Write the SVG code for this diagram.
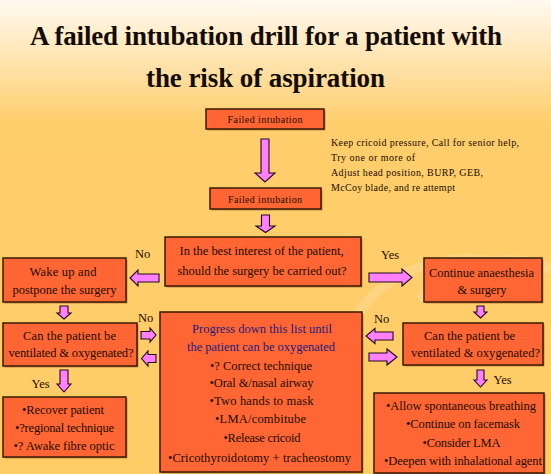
<svg xmlns="http://www.w3.org/2000/svg" width="551" height="474" viewBox="0 0 551 474">
<style>
.box{fill:#FF6633;stroke:#3a1a05;stroke-width:1.5}
.sh{fill:#7a3a10;opacity:0.45}
.arr{fill:#FF80FF;stroke:#1e0a1e;stroke-width:1.1;stroke-linejoin:miter}
.t{font-size:12.5px;text-anchor:middle;fill:#1a0c02}
.s{font-size:10px;text-anchor:middle;fill:#1a0c02}
.n{font-size:10px;fill:#1a0c02}
.lbl{font-size:12.5px;fill:#1a0c02}
.blue{fill:#1c1c7a}
.title{font-size:27px;font-weight:bold;text-anchor:middle;fill:#140c02}
</style>
<defs>
<linearGradient id="bg" x1="0" y1="0" x2="0" y2="474" gradientUnits="userSpaceOnUse">
<stop offset="0" stop-color="#FFF9F0"/>
<stop offset="0.26" stop-color="#FFCE6C"/>
<stop offset="1" stop-color="#FFCC66"/>
</linearGradient>
</defs>
<rect width="551" height="474" fill="url(#bg)"/>
<g fill="none" stroke="#FFE0A0" stroke-width="10" opacity="0.45">
<path d="M350,330 C370,280 430,250 500,262"/>
<path d="M420,300 C450,260 520,250 550,270"/>
</g>
<g font-family="Liberation Serif, DejaVu Serif, serif">
<g id="title">
<text class="title" x="266" y="45" font-family="Liberation Serif" textLength="472">A failed intubation drill for a patient with</text>
<text class="title" x="265.5" y="87" font-family="Liberation Serif" textLength="239">the risk of aspiration</text>
</g>
<g id="connectors">
<path class="arr" d="M261,139 H269 V173 H275 L265,182 L255,173 H261 Z"/>
<path class="arr" d="M261.5,215 H269.5 V226 H275 L265.5,232.5 L256,226 H261.5 Z"/>
<path class="arr" d="M60,306 H68 V313 H71 L64,319 L57,313 H60 Z"/>
<path class="arr" d="M477,306 H484 V312 H487 L480.5,318 L474,312 H477 Z"/>
<path class="arr" d="M60,370 H68 V384 H71 L64,392 L57,384 H60 Z"/>
<path class="arr" d="M477,370 H484 V380 H487 L480.5,387 L474,380 H477 Z"/>
<path class="arr" d="M159,274 V282 H138 V286 L130,278 L138,270 V274 Z"/>
<path class="arr" d="M369,273 V282 H402 V286 L412,277.5 L402,269 V273 Z"/>
<path class="arr" d="M141,331.5 V339 H150 V342 L156,335 L150,328 V331.5 Z"/>
<path class="arr" d="M156,354.5 V362.5 H148 V366 L141.5,358.5 L148,351 V354.5 Z"/>
<path class="arr" d="M393,332 V340 H375 V343.5 L366,336 L375,328.5 V332 Z"/>
<path class="arr" d="M369,353 V361 H387 V365 L397,357 L387,349 V353 Z"/>
<text class="lbl" x="135" y="258">No</text>
<text class="lbl" x="381" y="259">Yes</text>
<text class="lbl" x="138" y="321.5">No</text>
<text class="lbl" x="374" y="323">No</text>
<text class="lbl" x="31.5" y="388">Yes</text>
<text class="lbl" x="493.5" y="384">Yes</text>
</g>
<g id="failed1">
<rect class="sh" x="207.5" y="110.5" width="118" height="20"/>
<rect class="box" x="206" y="109" width="118" height="20"/>
<text class="s" x="265" y="123" textLength="75">Failed intubation</text>
</g>
<g id="note">
<text class="n" x="331" y="146" textLength="188">Keep cricoid pressure, Call for senior help,</text>
<text class="n" x="331" y="161" textLength="84">Try one or more of</text>
<text class="n" x="331" y="176" textLength="152">Adjust head position, BURP, GEB,</text>
<text class="n" x="331" y="190.5" textLength="124">McCoy blade, and re attempt</text>
</g>
<g id="failed2">
<rect class="sh" x="211.5" y="189.5" width="111" height="21"/>
<rect class="box" x="210" y="188" width="111" height="21"/>
<text class="s" x="265" y="203" textLength="74">Failed intubation</text>
</g>
<g id="decision">
<rect class="sh" x="166.5" y="238.5" width="196" height="49"/>
<rect class="box" x="165" y="237" width="196" height="49"/>
<text class="t" x="261.5" y="255" textLength="164">In the best interest of the patient,</text>
<text class="t" x="262" y="275" textLength="169">should the surgery be carried out?</text>
</g>
<g id="wakeup">
<rect class="sh" x="4.5" y="259.5" width="123" height="44"/>
<rect class="box" x="3" y="258" width="123" height="44"/>
<text class="t" x="63" y="276" textLength="67">Wake up and</text>
<text class="t" x="64.5" y="294" textLength="104">postpone the surgery</text>
</g>
<g id="continue">
<rect class="sh" x="425.5" y="259.5" width="118" height="44"/>
<rect class="box" x="424" y="258" width="118" height="44"/>
<text class="t" x="481.5" y="276.5" textLength="105">Continue anaesthesia</text>
<text class="t" x="482" y="294" textLength="49">&amp; surgery</text>
</g>
<g id="ventLeft">
<rect class="sh" x="4.5" y="324.5" width="134" height="43"/>
<rect class="box" x="3" y="323" width="134" height="43"/>
<text class="t" x="69.5" y="340" textLength="93">Can the patient be</text>
<text class="t" x="71" y="357" textLength="125">ventilated &amp; oxygenated?</text>
</g>
<g id="progress">
<rect class="sh" x="161.5" y="313.5" width="202" height="160"/>
<rect class="box" x="160" y="312" width="202" height="160"/>
<text class="t blue" x="262" y="333" textLength="140">Progress down this list until</text>
<text class="t blue" x="261" y="351" textLength="148">the patient can be oxygenated</text>
<text class="t" x="261" y="369.5" textLength="102">•? Correct technique</text>
<text class="t" x="261.5" y="387" textLength="104">•Oral &amp;/nasal airway</text>
<text class="t" x="261.5" y="405" textLength="104">•Two hands to mask</text>
<text class="t" x="260.5" y="423" textLength="91">•LMA/combitube</text>
<text class="t" x="262" y="441.5" textLength="77">•Release cricoid</text>
<text class="t" x="259.5" y="461.5" textLength="183">•Cricothyroidotomy + tracheostomy</text>
</g>
<g id="ventRight">
<rect class="sh" x="404.5" y="324.5" width="140" height="42"/>
<rect class="box" x="403" y="323" width="140" height="42"/>
<text class="t" x="469.5" y="339.5" textLength="91">Can the patient be</text>
<text class="t" x="475.5" y="357" textLength="129">ventilated &amp; oxygenated?</text>
</g>
<g id="recover">
<rect class="sh" x="4.5" y="398.5" width="123" height="60"/>
<rect class="box" x="3" y="397" width="123" height="60"/>
<text class="t" x="63" y="414" textLength="82">•Recover patient</text>
<text class="t" x="64.5" y="432" textLength="99">•?regional technique</text>
<text class="t" x="64" y="450" textLength="101">•? Awake fibre optic</text>
</g>
<g id="allow">
<rect class="sh" x="375.5" y="394.5" width="170" height="80"/>
<rect class="box" x="374" y="393" width="170" height="80"/>
<text class="t" x="461" y="409.5" textLength="150">•Allow spontaneous breathing</text>
<text class="t" x="463" y="428" textLength="114">•Continue on facemask</text>
<text class="t" x="461.5" y="446.5" textLength="78">•Consider LMA</text>
<text class="t" x="463" y="465" textLength="158">•Deepen with inhalational agent</text>
</g>
</g>
</svg>
